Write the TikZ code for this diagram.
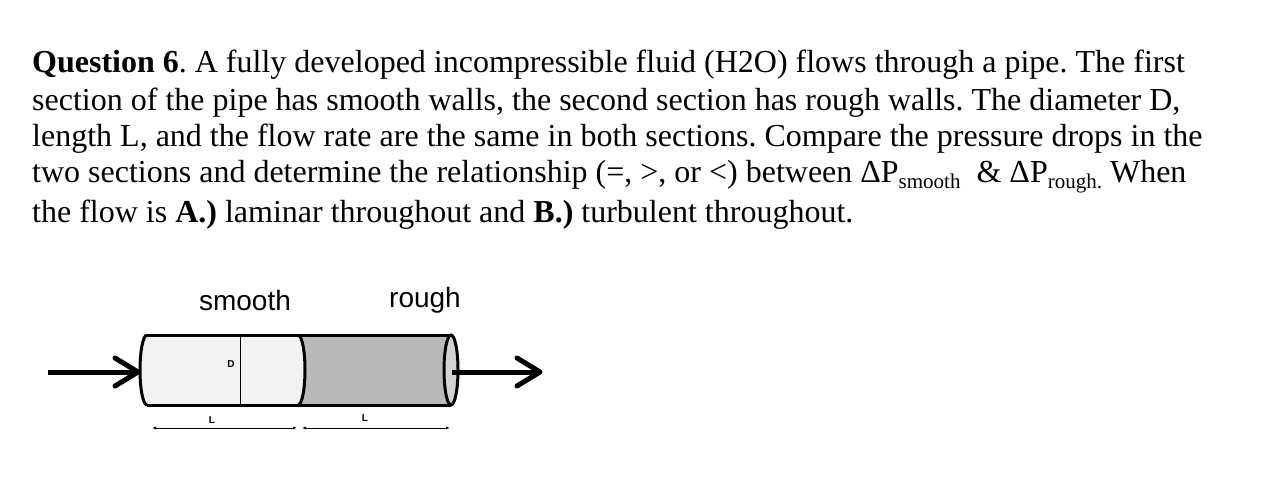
\documentclass[tikz,border=0pt]{standalone}
\usepackage{fontspec}
\usetikzlibrary{arrows.meta}
\setmainfont{Liberation Serif}
\newfontfamily\arialf{Liberation Sans}
\frenchspacing
\begin{document}
\begin{tikzpicture}[x=1pt,y=-1pt,
 ln/.style={anchor=base west,inner sep=0pt,font=\fontsize{32}{34}\selectfont},
 thick3/.style={line width=3pt},
 lbl/.style={font=\arialf\bfseries\fontsize{10}{11}\selectfont,inner sep=0pt}]
\useasboundingbox (0,0) rectangle (1266,482);
\node[ln] (l1) at (32,72) {\textbf{Question 6}. A fully developed incompressible fluid (H2O) flows through a pipe. The first};
\node[ln] (l2) at (32,110) {section of the pipe has smooth walls, the second section has rough walls. The diameter D,};
\node[ln] (l3) at (32,146) {length L, and the flow rate are the same in both sections. Compare the pressure drops in the};
\node[ln] (l4) at (32,182) {two sections and determine the relationship (=, >, or <) between ΔP\raisebox{-6pt}{\fontsize{21}{22}\selectfont smooth}\ \ \& ΔP\raisebox{-6pt}{\fontsize{21}{22}\selectfont rough.}\ When};
\node[ln] (l5) at (32,222) {the flow is \textbf{A.)} laminar throughout and \textbf{B.)} turbulent throughout.};
\node[font=\arialf\fontsize{28}{30}\selectfont] (sm) at (245,300) {smooth};
\node[font=\arialf\fontsize{28}{30}\selectfont] (ro) at (425,300) {rough};
% pipe
\fill[gray!55] (298,335) -- (451,335) arc[start angle=-90,end angle=90,x radius=7,y radius=35] -- (298,405) -- cycle;
\fill[gray!10] (147,335) -- (298,335) arc[start angle=-90,end angle=90,x radius=7,y radius=35] -- (147,405) arc[start angle=90,end angle=270,x radius=7,y radius=35] -- cycle;
\fill[gray!35] (451,370) ellipse[x radius=7,y radius=35];
\draw[thick3] (147,335) -- (451,335) (147,405) -- (451,405);
\draw[thick3] (147,335) arc[start angle=270,end angle=90,x radius=7,y radius=35];
\draw[thick3] (298,335) arc[start angle=-90,end angle=90,x radius=7,y radius=35];
\draw[thick3] (451,370) ellipse[x radius=7,y radius=35];
\draw[line width=1pt] (240,335) -- (240,405);
\node[lbl] (D) at (231,364) {D};
% arrows
\coordinate (a0) at (48,372); \coordinate (a1) at (138,372);
\draw[line width=5pt] (a0) -- (a1);
\draw[line width=5pt,line cap=round,line join=round] (115,358) -- (138,372) -- (115,386);
\coordinate (b0) at (452,372); \coordinate (b1) at (540,372);
\draw[line width=5pt] (b0) -- (b1);
\draw[line width=5pt,line cap=round,line join=round] (517,358) -- (540,372) -- (517,386);
% dims
\draw[line width=0.8pt,{Latex[length=4pt,width=3pt]}-{Latex[length=4pt,width=3pt]}] (152,428) -- (297,428);
\draw[line width=0.8pt,{Latex[length=4pt,width=3pt]}-{Latex[length=4pt,width=3pt]}] (302,428) -- (450,428);
\node[lbl] (L1) at (212,420) {L};
\node[lbl] (L2) at (365,418) {L};
\end{tikzpicture}
\end{document}
